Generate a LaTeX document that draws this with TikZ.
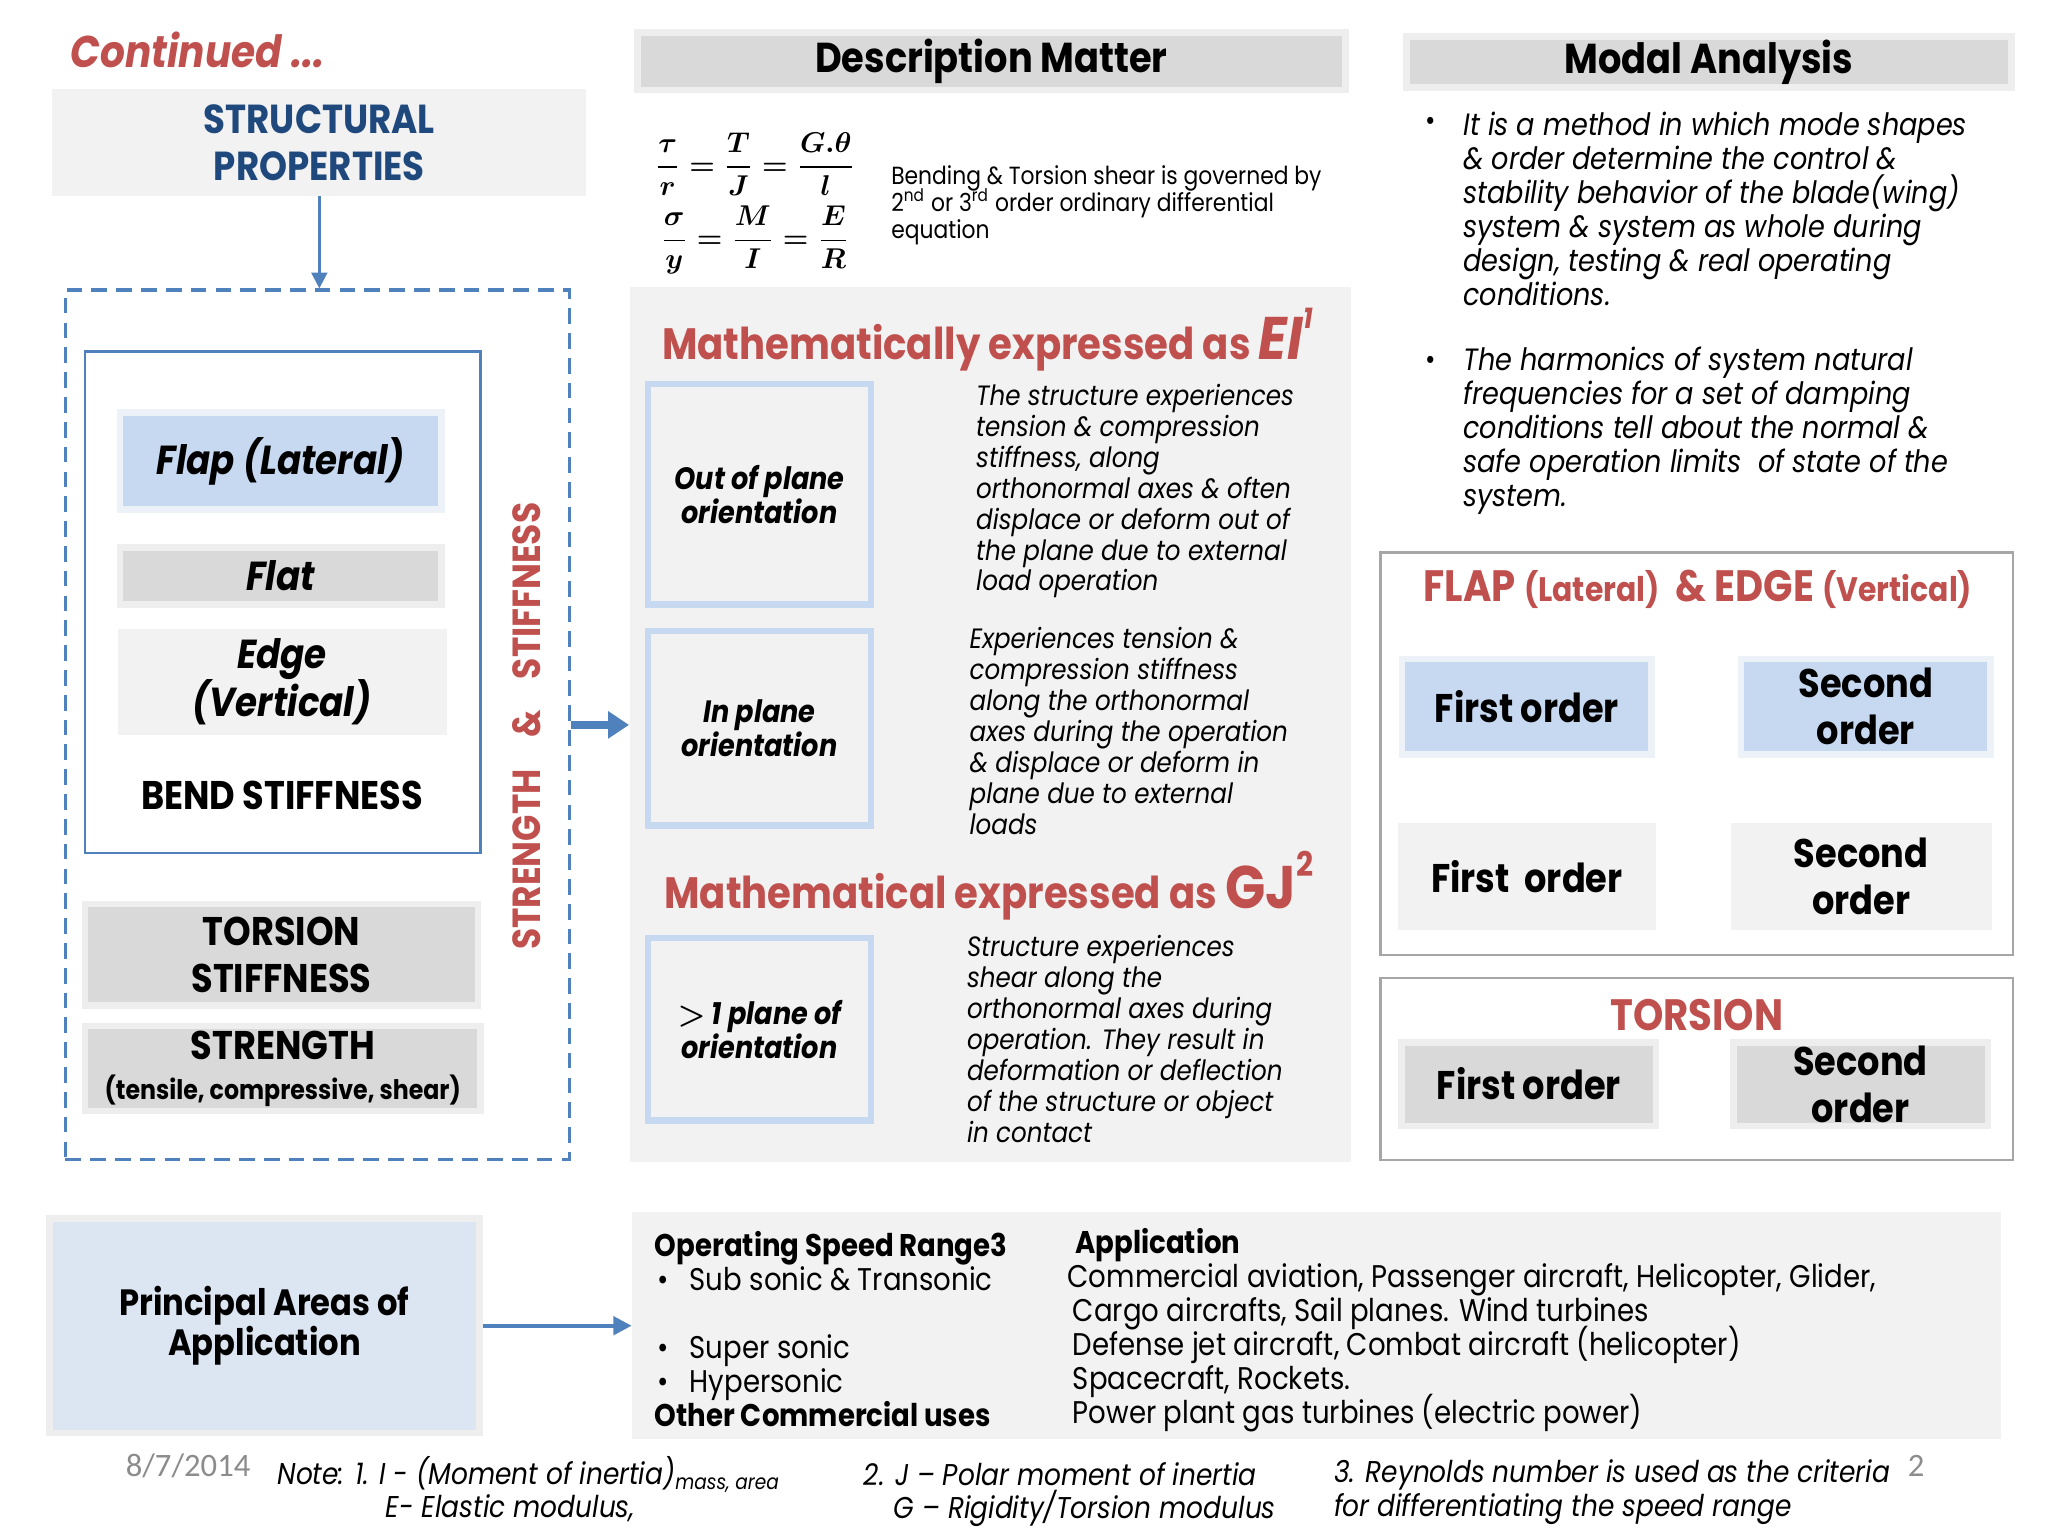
\documentclass[tikz,border=0pt]{standalone}
\usepackage{amsmath}
\usepackage{fontspec}
\setmainfont{Poppins}[FakeStretch=0.88]
\newfontfamily\calib{Carlito}
\usetikzlibrary{arrows.meta, positioning}
\lineskiplimit=-20pt

\definecolor{cRed}{HTML}{C0504D}
\definecolor{cNavy}{HTML}{1F497D}
\definecolor{cBlue}{HTML}{4F81BD}
\definecolor{cSky}{HTML}{C6D9F1}
\definecolor{cSkyHalo}{HTML}{EDF2F9}
\definecolor{cPale}{HTML}{DCE6F2}
\definecolor{cGray}{HTML}{D9D9D9}
\definecolor{cGrayHalo}{HTML}{EEEEEE}
\definecolor{cLight}{HTML}{F2F2F2}
\definecolor{cFrame}{HTML}{A6A6A6}
\definecolor{cFoot}{HTML}{8C8C8C}

\newcommand{\setfs}[2]{\fontsize{#1}{#2}\selectfont}

\tikzset{
  sz/.style 2 args={minimum width=#1, minimum height=#2, inner sep=0pt},
  sky/.style={fill=cSky, draw=cSkyHalo, line width=2.5pt},
  grey/.style={fill=cGray, draw=cGrayHalo, line width=2.5pt},
  pale/.style={fill=cLight},
  lbl/.style={align=center, font=\bfseries\setfs{15.3}{18}},
  ilbl/.style={align=center, font=\bfseries\itshape\setfs{15.5}{18.5}},
  orient/.style={draw=cSky, line width=2.5pt, fill=cLight, align=center,
    font=\bfseries\itshape\setfs{11.8}{13}},
  desc/.style={anchor=west, align=left, inner sep=0pt, font=\itshape\setfs{10.7}{11.85}},
  title/.style={text=cRed, font=\bfseries\setfs{16.8}{18}},
  frame/.style={draw=cFrame, line width=0.9pt},
  link/.style={draw=cBlue, -{Triangle[length=6pt,width=6pt]}},
}

\begin{document}
\begin{tikzpicture}[x=0.5pt, y=-0.5pt]
\useasboundingbox (0,0) rectangle (1568,1176);

% left column
\node[text=cRed, font=\bfseries\itshape\setfs{17}{18}] (cont) at (151,38) {Continued ...};
\node[sz={204.5pt}{41pt}, pale, text=cNavy, align=center, font=\bfseries\setfs{15.5}{18}] (sp) at (244.5,109) {STRUCTURAL\\PROPERTIES};
\node[sz={193pt}{333pt}, draw=cBlue, line width=1.2pt, dash pattern=on 6pt off 3.5pt] (props) at (243,555) {};
\node[sz={151.5pt}{192pt}, draw=cBlue, line width=1pt] (bend) at (216.5,461) {};
\node[sz={123pt}{37pt}, sky, ilbl] (flap) at (215,353) {Flap (Lateral)};
\node[sz={123pt}{22pt}, grey, ilbl] (flat) at (215,441) {Flat};
\node[sz={126pt}{40.5pt}, pale, ilbl] (edge) at (216,522) {Edge\\(Vertical)};
\node[lbl] (bendlbl) at (216,609) {BEND STIFFNESS};
\node[sz={150.5pt}{39pt}, grey, lbl] (tors) at (215.5,731) {TORSION\\STIFFNESS};
\node[sz={151.5pt}{32.5pt}, grey, align=center, font=\bfseries\setfs{15.3}{15.3}] (strength) at (216.5,818)
  {STRENGTH\\[0pt]{\setfs{10.3}{11}(tensile, compressive, shear)}};
\node[rotate=90, text=cRed, font=\bfseries\setfs{15}{18}] (sslbl) at (403,556)
  {STRENGTH\hspace{12pt}\&\hspace{12pt}STIFFNESS};

% description column
\node[sz={271pt}{22pt}, grey, font=\bfseries\setfs{16}{18}] (desc) at (759,47) {Description Matter};
\node[align=center, inner sep=0pt, font=\setfs{11}{28}\boldmath] (eqs) at (578,156)
  {$\displaystyle\frac{\tau}{r}=\frac{T}{J}=\frac{G.\theta}{l}$\\
   $\displaystyle\frac{\sigma}{y}=\frac{M}{I}=\frac{E}{R}$};
\node[anchor=west, align=left, inner sep=0pt, font=\setfs{9.5}{10.25}] (gov) at (682,157)
  {Bending \& Torsion shear is governed by\\
   2\textsuperscript{nd} or 3\textsuperscript{rd} order ordinary differential\\
   equation};
\node[sz={276pt}{335pt}, pale] (mid) at (758,555) {};
\node[title] (ei) at (756,260)
  {Mathematically expressed as {\setfs{23}{23}\itshape EI}\raisebox{1.3ex}{\setfs{11}{11}\itshape 1}};
\node[sz={85.5pt}{84.5pt}, orient] (outp) at (581.5,378.5) {Out of plane\\orientation};
\node[desc] (outtxt) at (747,376)
  {The structure experiences\\ tension \& compression\\ stiffness, along\\
   orthonormal axes \& often\\ displace or deform out of\\ the plane due to external\\ load operation};
\node[sz={85.5pt}{74.5pt}, orient] (inp) at (581.5,557.5) {In plane\\orientation};
\node[desc] (intxt) at (742,559.5)
  {Experiences tension \&\\ compression stiffness\\ along the orthonormal\\
   axes during the operation\\ \& displace or deform in\\ plane due to external\\ loads};
\node[title] (gj) at (757,678)
  {Mathematical expressed as {\setfs{23}{23}GJ}\raisebox{1.3ex}{\setfs{13}{13}2}};
\node[sz={85.5pt}{70pt}, orient] (multi) at (581.5,788) {$\boldsymbol{>}$ 1 plane of\\orientation};
\node[desc] (multitxt) at (740,795.5)
  {Structure experiences\\ shear along the\\ orthonormal axes during\\
   operation. They result in\\ deformation or deflection\\ of the structure or object\\ in contact};

% modal column
\node[sz={231.5pt}{19.5pt}, grey, font=\bfseries\setfs{16}{18}] (modal) at (1308.5,47.5) {Modal Analysis};
\node[font=\setfs{11}{13}] (b1) at (1095,95) {\textbullet};
\node[anchor=west, align=left, inner sep=0pt, font=\itshape\setfs{11.8}{13}] (m1) at (1120,160)
  {It is a method in which mode shapes\\ \& order determine the control \&\\
   stability behavior of the blade(wing)\\ system \& system as whole during\\
   design, testing \& real operating\\ conditions.};
\node[font=\setfs{11}{13}] (b2) at (1095,278) {\textbullet};
\node[anchor=west, align=left, inner sep=0pt, font=\itshape\setfs{11.8}{13}] (m2) at (1120,330)
  {The harmonics of system natural\\ frequencies for a set of damping\\
   conditions tell about the normal \&\\ safe operation limits\ \ of state of the\\ system.};

\node[sz={242pt}{154pt}, frame] (fe) at (1299,577) {};
\node[title] (fetitle) at (1300,451)
  {FLAP {\setfs{13}{14}(Lateral)}\ \ \& EDGE {\setfs{13}{14}(Vertical)}};
\node[sz={95.5pt}{36.5pt}, sky, lbl] (fo1) at (1169,541) {First order};
\node[sz={95.5pt}{36.5pt}, sky, lbl] (so1) at (1428.5,541) {Second\\order};
\node[sz={99pt}{41pt}, pale, lbl] (fo2) at (1169,671) {First\ \ order};
\node[sz={100pt}{41pt}, pale, lbl] (so2) at (1425,671) {Second\\order};

\node[sz={242pt}{69.5pt}, frame] (tq) at (1299,818.5) {};
\node[title] (tqtitle) at (1299,777) {TORSION};
\node[sz={97.5pt}{32pt}, grey, lbl] (fo3) at (1170.5,830) {First order};
\node[sz={97.5pt}{32pt}, grey, lbl] (so3) at (1424.5,830) {Second\\order};

% application row
\node[sz={164.5pt}{82pt}, fill=cPale, draw=cGrayHalo, line width=2.5pt, align=center,
  font=\bfseries\setfs{14}{15.5}] (pa) at (202.5,1015) {Principal Areas of\\Application};
\node[sz={524pt}{87pt}, pale] (app) at (1008,1015) {};
\node[anchor=west, align=left, inner sep=0pt, font=\setfs{12}{13}] (speed) at (501,1017.5)
  {\textbf{Operating Speed Range3}\\
   \hspace*{1pt}\textbullet\hspace{8pt}Sub sonic \& Transonic\\[13pt]
   \hspace*{1pt}\textbullet\hspace{8pt}Super sonic\\
   \hspace*{1pt}\textbullet\hspace{8pt}Hypersonic\\
   \textbf{Other Commercial uses}};
\node[anchor=west, align=left, inner sep=0pt, font=\setfs{12}{13}] (uses) at (817,1018.5)
  {\hspace*{3pt}\textbf{Application}\\
   Commercial aviation, Passenger aircraft, Helicopter, Glider,\\
   \hspace*{2pt}Cargo aircrafts, Sail planes. Wind turbines\\
   \hspace*{2pt}Defense jet aircraft, Combat aircraft (helicopter)\\
   \hspace*{2pt}Spacecraft, Rockets.\\
   \hspace*{2pt}Power plant gas turbines (electric power)};

% footer
\node[text=cFoot, font=\calib\setfs{12.5}{14}] (date) at (144,1122) {8/7/2014};
\node[anchor=west, inner sep=0pt, font=\itshape\setfs{11.5}{13}] (n1) at (212,1129)
  {Note: 1. I - (Moment of inertia)\textsubscript{mass, area}};
\node[anchor=west, inner sep=0pt, font=\itshape\setfs{11.5}{13}] (n1b) at (295,1155) {E- Elastic modulus,};
\node[anchor=west, inner sep=0pt, font=\itshape\setfs{11.5}{13}] (n2) at (661,1129) {2. J \textendash{} Polar moment of inertia};
\node[anchor=west, inner sep=0pt, font=\itshape\setfs{11.5}{13}] (n2b) at (684,1155) {G \textendash{} Rigidity/Torsion modulus};
\node[anchor=west, inner sep=0pt, font=\itshape\setfs{11.5}{13}] (n3) at (1021,1129) {3. Reynolds number is used as the criteria};
\node[anchor=west, inner sep=0pt, font=\itshape\setfs{11.5}{13}] (n3b) at (1021,1155) {for differentiating the speed range};
\node[text=cFoot, font=\calib\setfs{12.5}{14}] (pg) at (1467,1122) {2};

% connectors
\draw[link, line width=1pt] (sp.south) -- (sp.south |- props.north);
\draw[link, line width=3pt, -{Triangle[length=8pt,width=10pt]}] (props.east) -- (mid.west);
\draw[link, line width=1.5pt, -{Triangle[length=7pt,width=7pt]}] (pa.east) -- (app.west);
\end{tikzpicture}
\end{document}
